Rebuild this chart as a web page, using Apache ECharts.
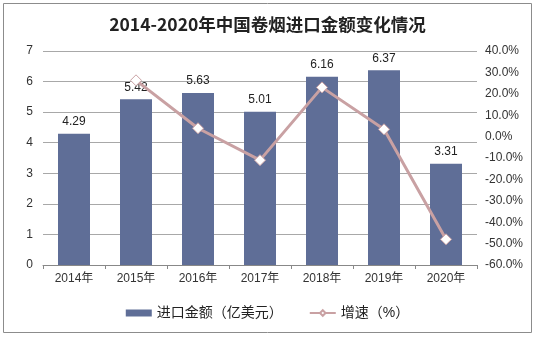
<!DOCTYPE html>
<html><head><meta charset="utf-8">
<script src="https://cdn.jsdelivr.net/npm/echarts@6/dist/echarts.min.js"></script>
<style>html,body{margin:0;padding:0;background:#fff}#c{width:535px;height:338px}</style>
</head><body><div id="c"></div>
<script>
var categories = ['2014年','2015年','2016年','2017年','2018年','2019年','2020年'];
var importValues = [4.29, 5.42, 5.63, 5.01, 6.16, 6.37, 3.31];
var growthValues = [null, 26.3, 3.9, -11.0, 23.0, 3.4, -48.0];
var leftTicks = {min: 0, max: 7, interval: 1};
var rightTicks = {min: -60, max: 40, interval: 10};

var chart = echarts.init(document.getElementById('c'));
var font = 'Arial, "Liberation Sans", "Noto Sans CJK SC", sans-serif';
chart.setOption({
  animation: false,
  graphic: [{type:'rect', shape:{x:3.5,y:3.5,width:528,height:329}, style:{fill:'none', stroke:'#8c8c8c', lineWidth:1}, silent:true}],
  title: {text: '2014-2020年中国卷烟进口金额变化情况', left: 'center', top: 11,
    textStyle: {fontFamily: '"Noto Sans CJK SC", serif', fontSize: 17.5, fontWeight: 'bold', color: '#222'}},
  grid: {left: 43, right: 58, top: 51, bottom: 73},
  legend: {bottom: 13, itemGap: 26, textStyle: {fontFamily: font, fontSize: 14, color: '#222'},
    data: [{name:'进口金额（亿美元）', icon:'rect'},{name:'增速（%）'}], itemWidth: 26, itemHeight: 7},
  xAxis: {type: 'category', data: categories,
    axisLine: {lineStyle: {color: '#888'}}, axisTick: {show: true, length: 4, lineStyle:{color:'#888'}},
    axisLabel: {color: '#333', fontFamily: font, fontSize: 12, margin: 8}},
  yAxis: [
    {type: 'value', min: leftTicks.min, max: leftTicks.max, interval: leftTicks.interval,
     axisLine: {show: false}, axisTick: {show: false},
     splitLine: {lineStyle: {color: '#a8a8a8'}},
     axisLabel: {color: '#333', fontFamily: font, fontSize: 12, margin: 10}},
    {type: 'value', min: rightTicks.min, max: rightTicks.max, interval: rightTicks.interval,
     axisLine: {show: false}, axisTick: {show: false}, splitLine: {show: false},
     axisLabel: {color: '#333', fontFamily: font, fontSize: 12, margin: 8, formatter: function(v){return v.toFixed(1)+'%';}}}
  ],
  series: [
    {name: '进口金额（亿美元）', type: 'bar', data: importValues, barWidth: 32,
     itemStyle: {color: '#5f6e97'},
     label: {show: true, position: 'top', distance: 6, color: '#222', fontFamily: font, fontSize: 12, formatter: function(p){return p.value.toFixed(2);}}},
    {name: '增速（%）', type: 'line', yAxisIndex: 1, data: growthValues,
     lineStyle: {color: '#c9a1a3', width: 3}, itemStyle: {color: '#fff', borderColor: '#c9a1a3', borderWidth: 1},
     symbol: 'diamond', symbolSize: 11, showAllSymbol: true, connectNulls: false}
  ]
});
</script></body></html>
